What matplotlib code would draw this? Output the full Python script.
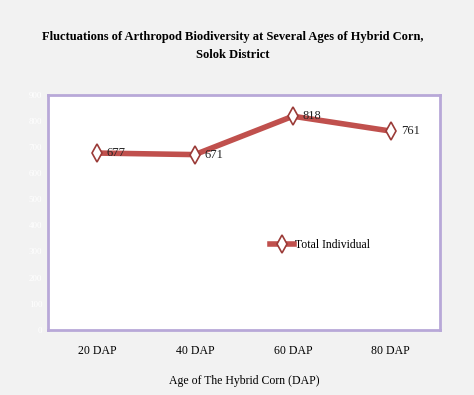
import matplotlib
matplotlib.use("Agg")
import matplotlib.pyplot as plt

categories = ["20 DAP", "40 DAP", "60 DAP", "80 DAP"]
values = [677, 671, 818, 761]
yticks = [0, 100, 200, 300, 400, 500, 600, 700, 800, 900]

BG = "#f2f2f2"
RED = "#c0504d"
BORDER = "#b8a8d8"

plt.rcParams["font.family"] = ["Liberation Serif", "DejaVu Serif"]

fig = plt.figure(figsize=(4.74, 3.95), dpi=100)
fig.patch.set_facecolor(BG)
ax = fig.add_axes([0.101, 0.165, 0.827, 0.595])
ax.set_facecolor("white")

x = list(range(len(categories)))
ax.plot(x, values, "-", color=RED, linewidth=4, marker="d", markersize=9,
        markerfacecolor="white", markeredgecolor="#9b3b38", markeredgewidth=1.2,
        label="Total Individual", zorder=3)
for xi, v in zip(x, values):
    ax.text(xi + 0.1, v, str(v), fontsize=9, va="center", ha="left", color="#222222", zorder=4)

ax.set_xlim(-0.5, 3.5)
ax.set_ylim(0, 900)
ax.set_yticks(yticks)
ax.set_yticklabels([str(t) for t in yticks], color="white", fontsize=6.5)
ax.set_xticks(x)
ax.set_xticklabels(categories, fontsize=8.5)
ax.tick_params(length=0, pad=11)
ax.tick_params(axis="y", pad=4)
for s in ax.spines.values():
    s.set_color(BORDER)
    s.set_linewidth(2)
ax.set_xlabel("Age of The Hybrid Corn (DAP)", fontsize=8.5, labelpad=13)

leg = ax.legend(loc="center", bbox_to_anchor=(0.695, 0.36), frameon=False,
                fontsize=8.5, handlelength=2.0, handletextpad=0.1)

fig.text(0.49, 0.906, "Fluctuations of Arthropod Biodiversity at Several Ages of Hybrid Corn,",
         ha="center", va="center", fontsize=9, fontweight="bold")
fig.text(0.49, 0.86, "Solok District", ha="center", va="center",
         fontsize=9, fontweight="bold")

fig.savefig("out.png", dpi=100, facecolor=BG)
